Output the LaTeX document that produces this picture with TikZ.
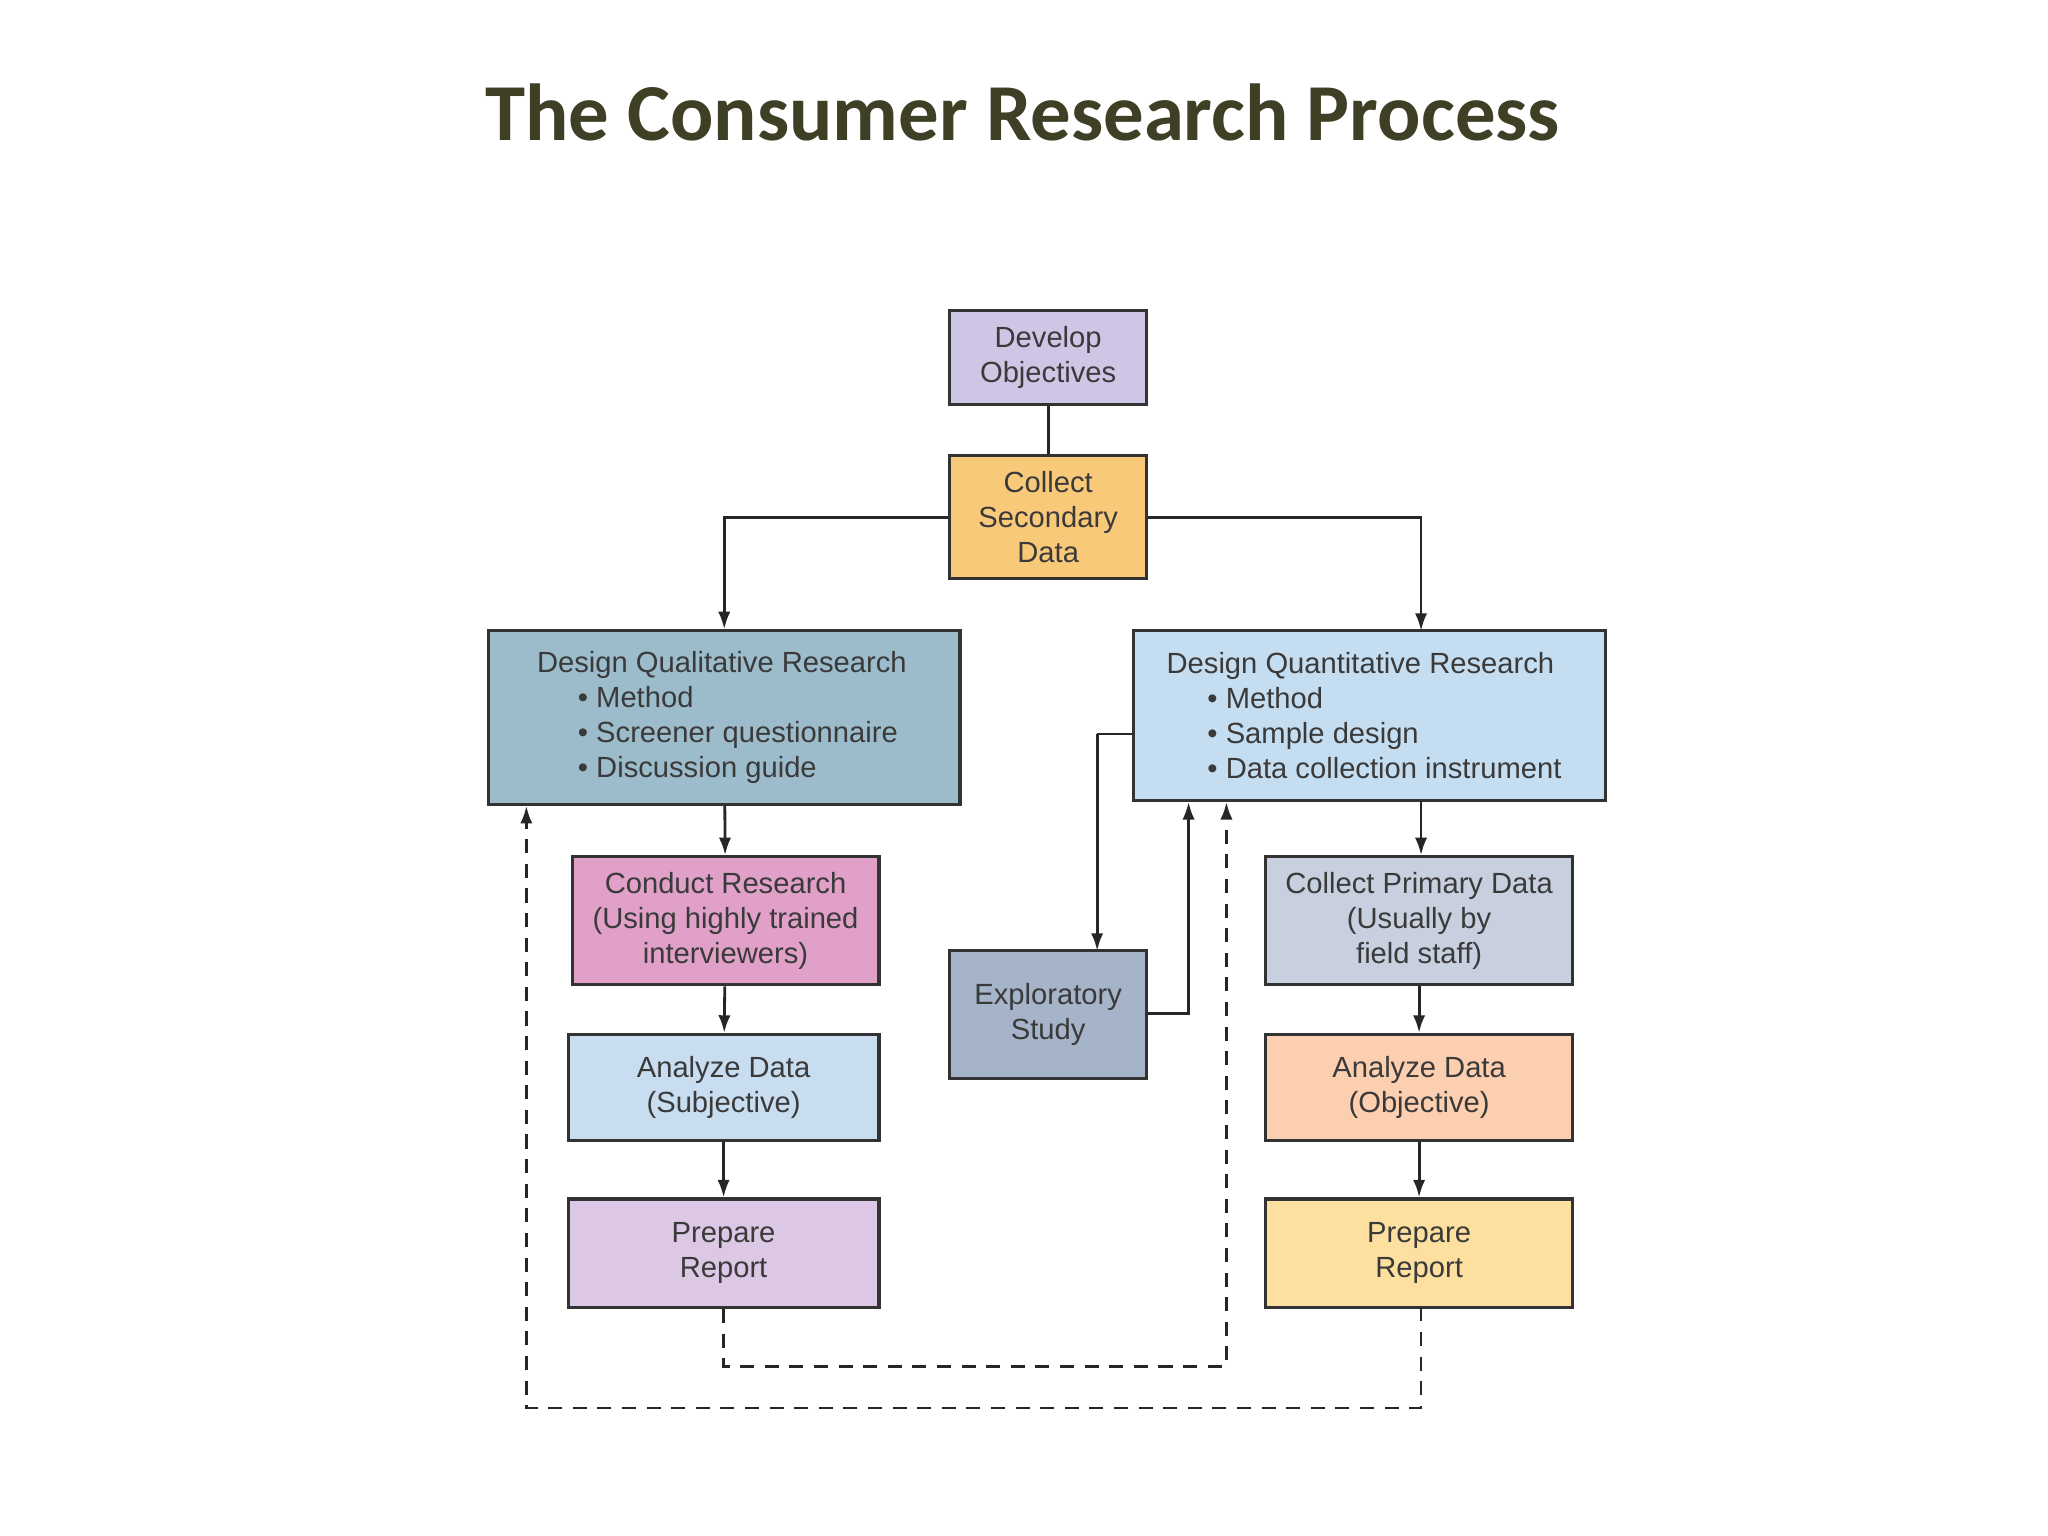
\documentclass[tikz,border=0pt]{standalone}
\usepackage{fontspec}
\setmainfont{Liberation Sans}
\newfontfamily\titlefont{Carlito}
\usetikzlibrary{arrows.meta}
\definecolor{tcol}{HTML}{3F3F26}
\definecolor{txt}{HTML}{3A3A3A}
\definecolor{cdev}{HTML}{CFC6E6}
\begin{document}
\begin{tikzpicture}[x=0.01306cm,y=-0.01306cm,
  box/.style={draw=black!80,line width=0.9pt,text=txt,font=\fontsize{8.3}{10}\selectfont,align=center,inner sep=0pt},
  arr/.style={draw=black!85,line width=0.8pt,-{Latex[length=5pt,width=3.5pt]}},
  ln/.style={draw=black!85,line width=0.8pt},
  dsh/.style={arr,dash pattern=on 4pt off 3pt}]
\useasboundingbox (0,0) rectangle (1568,1176);
\node[font=\titlefont\bfseries\fontsize{23}{28}\selectfont,text=tcol] (title) at (783,86) {The Consumer Research Process};
\node[box,fill=cdev,minimum width=1.972cm,minimum height=0.94cm] (dev) at (802.5,274) {Develop\\Objectives};
\node[box,fill={rgb,255:red,249;green,201;blue,122},minimum width=1.972cm,minimum height=1.228cm] (sec) at (802.5,396) {Collect\\Secondary\\Data};
\node[box,fill={rgb,255:red,157;green,188;blue,203},minimum width=4.715cm,minimum height=1.737cm] (qual) at (554.5,549.5) {};
\node[box,anchor=west,align=left,draw=none,fill=none] (qualt) at (410,549.5) {Design Qualitative Research\\\hspace*{1.4em}\textbullet\ Method\\\hspace*{1.4em}\textbullet\ Screener questionnaire\\\hspace*{1.4em}\textbullet\ Discussion guide};
\node[box,fill={rgb,255:red,197;green,221;blue,240},minimum width=4.715cm,minimum height=1.698cm] (quan) at (1048.5,548) {};
\node[box,anchor=west,align=left,draw=none,fill=none] (quant) at (892,548) {Design Quantitative Research\\\hspace*{1.4em}\textbullet\ Method\\\hspace*{1.4em}\textbullet\ Sample design\\\hspace*{1.4em}\textbullet\ Data collection instrument};
\node[box,fill={rgb,255:red,224;green,160;blue,200},minimum width=3.069cm,minimum height=1.28cm] (cond) at (555.5,705) {Conduct Research\\(Using highly trained\\interviewers)};
\node[box,fill={rgb,255:red,200;green,221;blue,240},minimum width=3.108cm,minimum height=1.058cm] (ansub) at (554,832.5) {Analyze Data\\(Subjective)};
\node[box,fill={rgb,255:red,220;green,200;blue,228},minimum width=3.108cm,minimum height=1.084cm] (prl) at (554,959.5) {Prepare\\Report};
\node[box,fill={rgb,255:red,165;green,180;blue,200},minimum width=1.972cm,minimum height=1.28cm] (exp) at (802.5,777) {Exploratory\\Study};
\node[box,fill={rgb,255:red,200;green,208;blue,224},minimum width=3.069cm,minimum height=1.28cm] (cpd) at (1086.5,705) {Collect Primary Data\\(Usually by\\field staff)};
\node[box,fill={rgb,255:red,252;green,207;blue,176},minimum width=3.069cm,minimum height=1.058cm] (anob) at (1086.5,832.5) {Analyze Data\\(Objective)};
\node[box,fill={rgb,255:red,253;green,224;blue,160},minimum width=3.069cm,minimum height=1.084cm] (prr) at (1086.5,959.5) {Prepare\\Report};
\coordinate (qd) at (910,614);
\coordinate (qd2) at (939,614);
\coordinate (ql) at (403,617);
\draw[ln] (dev) -- (sec);
\draw[arr] (sec.west) -| (qual.north);
\draw[arr] (sec.east) -| (1088,483);
\draw[arr] (qual) -- (cond);
\draw[arr] (cond) -- (ansub);
\draw[arr] (ansub) -- (prl);
\draw[arr] (1088,613) -- (cpd.north -| 1088,0);
\draw[arr] (cpd) -- (anob);
\draw[arr] (anob) -- (prr);
\draw[ln] (868,562) -- (840,562);
\draw[arr] (840,562) -- (840,728);
\draw[arr] (878,776) -| (qd);
\draw[dsh] (prl.south) |- (939,1046) -- (qd2);
\draw[dsh] (1088,1001) |- (403,1078) -- (ql);
\end{tikzpicture}
\end{document}
